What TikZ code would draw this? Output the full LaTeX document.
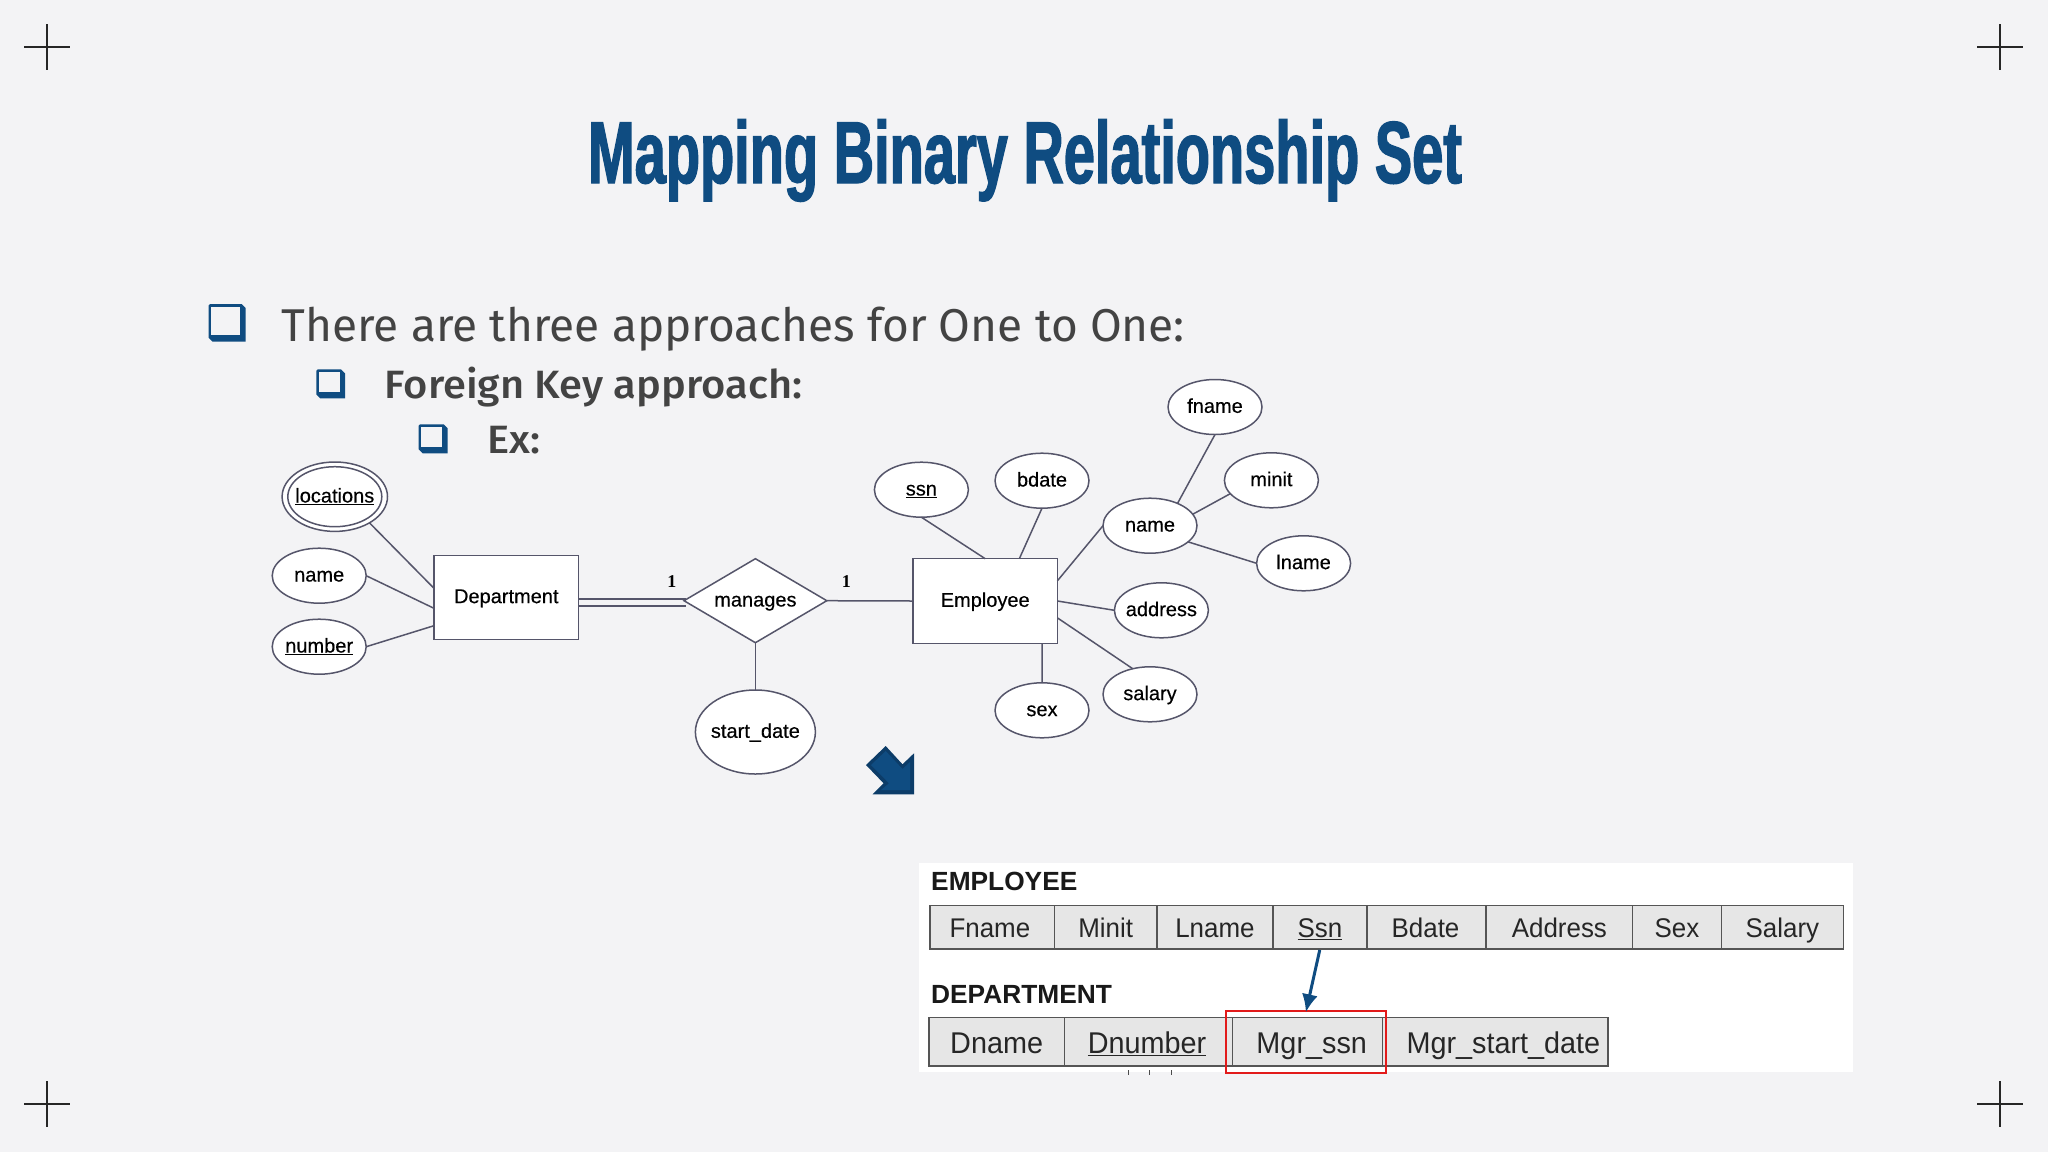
\documentclass[tikz,border=0pt]{standalone}
\usepackage{fontspec}
\usetikzlibrary{shapes.geometric,arrows.meta,calc}
\setmainfont{Liberation Sans}
\newfontfamily\titlefont[FakeStretch=0.636,FakeBold=1.5]{Liberation Sans Bold}
\newfontfamily\bodyfont{Fira Sans}
\newfontfamily\bodybold[FakeStretch=1.055]{Fira Sans Medium}
\newfontfamily\onefont{Liberation Serif}
\newfontfamily\erfont[FakeBold=0.4]{Liberation Sans}
\newfontfamily\tabfont[FakeStretch=0.96]{Liberation Sans}
\definecolor{bgc}{HTML}{F3F3F5}
\definecolor{navy}{HTML}{0F4C81}
\definecolor{navyd}{HTML}{0C3C68}
\definecolor{bodyc}{HTML}{434343}
\definecolor{erline}{HTML}{55556A}
\definecolor{cellfill}{HTML}{E6E6E6}
\definecolor{cellline}{HTML}{555555}
\definecolor{redbox}{HTML}{E21B1B}
\newcommand\fs[1]{\fontsize{#1}{#1}\selectfont}
\newcommand\sqbullet[4]{%
  \fill[navy] (#1+1.5,#2) -- (#1+#3-4,#2) -- (#1+#3,#2+4) -- (#1+#3,#2+#4) -- (#1+4,#2+#4) -- (#1,#2+#4-4) -- (#1,#2+1.5) -- cycle;
  \fill[bgc] (#1+2.5,#2+2.5) rectangle (#1+#3-5.5,#2+#4-6.5);
}
\tikzset{
  er/.style={draw=erline,line width=1.5pt,fill=white,inner sep=0pt,outer sep=0pt,font=\erfont\fs{20},text=black,text height=15.6pt,text depth=4pt},
  attr/.style={er,ellipse,inner sep=-10pt,minimum width=94pt,minimum height=55pt},
  entity/.style={er,rectangle},
  conn/.style={draw=erline,line width=1.5pt},
  oneL/.style={font=\onefont\bfseries\fs{18},text=black,inner sep=0pt},
  cropmark/.style={draw=black!85,line width=1.8pt},
  lvlone/.style={anchor=base west,inner sep=0pt,text=bodyc,font=\bodyfont\fs{46}},
  lvltwo/.style={anchor=base west,inner sep=0pt,text=bodyc,font=\bodybold\fs{39.5}},
  tablehead/.style={anchor=base west,inner sep=0pt,text=black!90,font=\bfseries\fs{26.3}},
  cella/.style={draw=cellline,line width=1.5pt,fill=cellfill,inner sep=0pt,outer sep=0pt,anchor=north west,minimum height=43.3pt,text height=26pt,text depth=6pt,text=black!85,font=\tabfont\fs{27}},
  cellb/.style={draw=cellline,line width=1.5pt,fill=cellfill,inner sep=0pt,outer sep=0pt,anchor=north west,minimum height=48.3pt,text height=29pt,text depth=6pt,text=black!85,font=\tabfont\fs{30}},
}
\begin{document}
\begin{tikzpicture}[x=1pt,y=-1pt]
\useasboundingbox (0,0) rectangle (2048,1152);
\fill[bgc] (0,0) rectangle (2048,1152);
% crop marks
\foreach \cx/\cy in {47/47,2000/47,47/1104,2000/1104}{
  \draw[cropmark] (\cx-23,\cy) -- (\cx+23,\cy);
  \draw[cropmark] (\cx,\cy-23) -- (\cx,\cy+23);
}
% title
\node[anchor=base,inner sep=0pt,text=navy,font=\titlefont\fs{88}] (title) at (1025,183) {Mapping Binary Relationship Set};
% bullets
\sqbullet{208.7}{304}{37}{37.7}
\sqbullet{316.3}{369.3}{28.7}{29}
\sqbullet{418.6}{424.3}{29}{29}
\node[lvlone] (l1) at (281.5,341.7) {There are three approaches for One to One:};
\node[lvltwo] (l2) at (384.5,398.3) {Foreign Key approach:};
\node[lvltwo] (l3) at (487,453) {Ex:};
% ER diagram - left
\node[attr,minimum width=105.4pt,minimum height=69.4pt] (locout) at (334.8,496.7) {};
\node[attr,inner sep=-20pt,minimum width=94pt,minimum height=60pt] (loc) at (334.8,496.7) {\underline{locations}};
\node[attr] (dname) at (319.2,575.7) {name};
\node[attr] (dnum) at (319.2,646.7) {\underline{number}};
\node[entity,minimum width=144.6pt,minimum height=84pt] (dept) at (506.3,597.3) {Department};
\node[er,diamond,aspect=1.7,minimum width=142.8pt,minimum height=84pt] (rel) at (755.4,600.7) {manages};
\node[er,ellipse,inner sep=-10pt,minimum width=120pt,minimum height=84pt] (sd) at (755.4,732) {start\_date};
\node[entity,minimum width=144.6pt,minimum height=84.6pt] (emp) at (985.2,601) {Employee};
\node[attr] (ssn) at (921.4,489.7) {\underline{ssn}};
\node[attr] (bdate) at (1042,480.7) {bdate};
\node[attr] (ename) at (1150,525.7) {name};
\node[attr] (fname) at (1215,407) {fname};
\node[attr] (minit) at (1271.4,480.3) {minit};
\node[attr] (lname) at (1303.6,563.3) {lname};
\node[attr] (addr) at (1161.4,610.3) {address};
\node[attr] (sal) at (1150,694.3) {salary};
\node[attr] (sex) at (1042,710.3) {sex};
\node[oneL] (oneA) at (671.9,581.7) {1};
\node[oneL] (oneB) at (846.4,581.7) {1};
% connectors
\draw[conn] (locout.-37.4) -- ($(dept.north west)!0.393!(dept.south west)$);
\draw[conn] (dname.east) -- ($(dept.north west)!0.631!(dept.south west)$);
\draw[conn] (dnum.east) -- ($(dept.north west)!0.838!(dept.south west)$);
\draw[conn,line width=1.8pt] ($(dept.east)+(0,1.4)$) -- ($(rel.west)+(2,-2)$);
\draw[conn,line width=1.8pt] ($(dept.east)+(0,8.7)$) -- ($(rel.west)+(2,5.3)$);
\draw[conn] (rel.east) -- (emp.west);
\draw[conn] (rel.south) -- (sd.north);
\draw[conn] (ssn.south) -- (emp.north);
\draw[conn] (bdate.south) -- ($(emp.north west)!0.736!(emp.north east)$);
\draw[conn] (ename.west) -- ($(emp.north east)!0.26!(emp.south east)$);
\draw[conn] (fname.south) -- (ename.39);
\draw[conn] (minit.198.9) -- (ename.15);
\draw[conn] (lname.west) -- (ename.-23.5);
\draw[conn] (addr.west) -- (emp.east);
\draw[conn] (sal.124) -- ($(emp.north east)!0.7!(emp.south east)$);
\draw[conn] (sex.north) -- ($(emp.south west)!0.893!(emp.south east)$);
% big arrow
\fill[navyd] (885.7,746) -- (866,765) -- (883.6,783.3) -- (872.5,794.3) -- (914,794.3) -- (914,753.3) -- (902.5,764.3) -- cycle;
\fill[navy] (885.7,751) -- (871,765) -- (889,783.3) -- (881,790) -- (910,790) -- (910,762) -- (902.5,769) -- cycle;
% table panel
\fill[white] (919,862.7) rectangle (1853,1072.3);
\node[tablehead] (emph) at (931,890) {EMPLOYEE};
\node[tablehead] (deph) at (931,1003) {DEPARTMENT};
\node[cella,minimum width=124.3pt] (c1) at (930.2,905.7) {\hspace*{-5pt}Fname};
\node[cella,minimum width=102.3pt] (c2) at (1054.5,905.7) {Minit};
\node[cella,minimum width=116.3pt] (c3) at (1156.8,905.7) {Lname};
\node[cella,minimum width=93.7pt] (c4) at (1273.1,905.7) {\underline{Ssn}};
\node[cella,minimum width=119.4pt] (c5) at (1366.8,905.7) {\hspace*{-2pt}Bdate};
\node[cella,minimum width=146.4pt] (c6) at (1486.2,905.7) {Address};
\node[cella,minimum width=88.8pt] (c7) at (1632.6,905.7) {Sex};
\node[cella,minimum width=121.9pt] (c8) at (1721.4,905.7) {Salary};
\node[cellb,minimum width=135.3pt] (d1) at (929,1017.7) {Dname};
\node[cellb,minimum width=168.4pt] (d2) at (1064.3,1017.7) {\hspace*{-3pt}\underline{Dnumber}};
\node[cellb,minimum width=150pt] (d3) at (1232.7,1017.7) {\hspace*{8pt}Mgr\_ssn};
\node[cellb,minimum width=225.3pt] (d4) at (1382.7,1017.7) {\hspace*{16pt}Mgr\_start\_date};
\node[draw=redbox,line width=2pt,inner sep=0pt,minimum width=159.8pt,minimum height=62pt,anchor=north west] (red) at (1225.4,1010.3) {};
\draw[draw=navy,line width=3pt,-{Latex[length=18pt,width=16pt]},shorten <=1pt,shorten >=-2pt] (c4.south) -- (red.north);
% scan specks
\foreach \tx in {1128.6,1149.4,1171.5}{\draw[black!70,line width=1pt] (\tx,1070) -- (\tx,1074.5);}
\end{tikzpicture}
\end{document}
